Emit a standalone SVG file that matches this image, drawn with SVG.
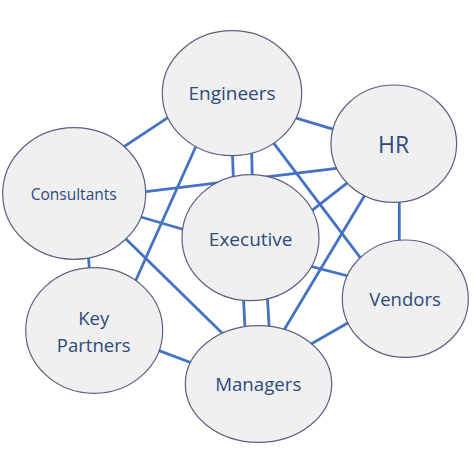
<svg xmlns="http://www.w3.org/2000/svg" width="474" height="474" viewBox="0 0 474 474">
<style>
.c{stroke:#4472C4;stroke-width:2.8;fill:none}
.n{fill:#F0F0F1;stroke:#5A6180;stroke-width:1.2}
.t{font-family:"Open Sans","Liberation Sans",sans-serif;fill:#2E4A7D;text-anchor:middle}
</style>
<rect width="474" height="474" fill="#FFFFFF"/>
<g id="connectors">
<line class="c" x1="115.7" y1="152.2" x2="175" y2="112.8"/>
<line class="c" x1="287.1" y1="115.4" x2="342.9" y2="132.2"/>
<line class="c" x1="232.3" y1="150" x2="233.5" y2="182"/>
<line class="c" x1="251.6" y1="150" x2="252.4" y2="182"/>
<line class="c" x1="198.3" y1="141" x2="132.7" y2="287.3"/>
<line class="c" x1="269.5" y1="137.6" x2="364.8" y2="263.7"/>
<line class="c" x1="137.8" y1="192.7" x2="344.6" y2="167.3"/>
<line class="c" x1="134" y1="215" x2="190.4" y2="231.5"/>
<line class="c" x1="88.3" y1="255" x2="89.6" y2="272"/>
<line class="c" x1="120.3" y1="233.4" x2="227.4" y2="338.3"/>
<line class="c" x1="353" y1="178.4" x2="305.4" y2="215.6"/>
<line class="c" x1="368.1" y1="189.8" x2="280.9" y2="335.2"/>
<line class="c" x1="399.3" y1="196" x2="399.3" y2="246"/>
<line class="c" x1="304" y1="264.7" x2="356" y2="278"/>
<line class="c" x1="243.3" y1="294" x2="245.2" y2="333"/>
<line class="c" x1="267.2" y1="294" x2="269.5" y2="333"/>
<line class="c" x1="151.8" y1="347.9" x2="198.5" y2="365.5"/>
<line class="c" x1="305.4" y1="347.3" x2="355.2" y2="318.7"/>
</g>
<g id="engineers">
<ellipse class="n" cx="232" cy="93.2" rx="69.7" ry="62.5"/>
<text class="t" x="232" y="100" font-size="19">Engineers</text>
</g>
<g id="hr">
<ellipse class="n" cx="393.8" cy="143.7" rx="62.8" ry="58.7"/>
<text class="t" x="393.5" y="153.3" font-size="23">HR</text>
</g>
<g id="consultants">
<ellipse class="n" cx="74.2" cy="193.5" rx="71.5" ry="65.8"/>
<text class="t" x="73.7" y="200" font-size="15.5">Consultants</text>
</g>
<g id="executive">
<ellipse class="n" cx="250.5" cy="237.7" rx="68.5" ry="63"/>
<text class="t" x="250.7" y="245.5" font-size="19">Executive</text>
</g>
<g id="vendors">
<ellipse class="n" cx="405.3" cy="298.7" rx="63" ry="58.7"/>
<text class="t" x="405" y="306" font-size="18.5">Vendors</text>
</g>
<g id="key-partners">
<ellipse class="n" cx="94.2" cy="330.5" rx="68.5" ry="62.8"/>
<text class="t" x="93.8" y="325" font-size="18.5">Key</text>
<text class="t" x="93.7" y="351.7" font-size="18.5">Partners</text>
</g>
<g id="managers">
<ellipse class="n" cx="258.5" cy="384" rx="73.2" ry="58.3"/>
<text class="t" x="258.3" y="391" font-size="18.7">Managers</text>
</g>
</svg>
